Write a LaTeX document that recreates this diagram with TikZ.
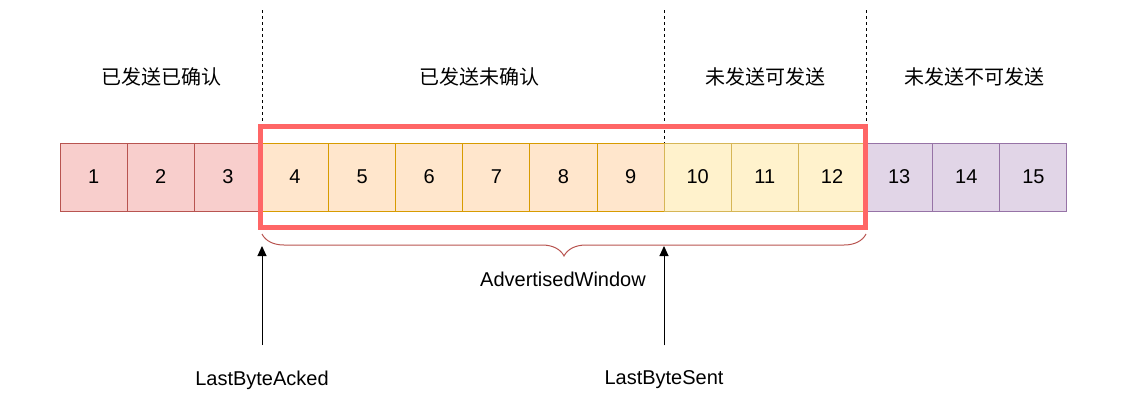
\documentclass[tikz,border=0pt]{standalone}
\usepackage{fontspec}
\setmainfont{Liberation Sans}
\newfontfamily\cjk{Noto Sans CJK SC}
\usetikzlibrary{decorations.pathreplacing,arrows.meta}
\definecolor{rf}{HTML}{F8CECC}\definecolor{rd}{HTML}{B85450}
\definecolor{of}{HTML}{FFE6CC}\definecolor{od}{HTML}{D79B00}
\definecolor{yf}{HTML}{FFF2CC}\definecolor{yd}{HTML}{D6B656}
\definecolor{pf}{HTML}{E1D5E7}\definecolor{pd}{HTML}{9673A6}
\definecolor{win}{HTML}{FF6666}
\begin{document}
\begin{tikzpicture}[x=1pt,y=-1pt,
  cell/.style={draw,line width=1pt,minimum width=67.13pt,minimum height=68pt,inner sep=0pt,font=\fontsize{20}{24}\selectfont},
  lbl/.style={font=\fontsize{20}{24}\selectfont},
  hd/.style={font=\fontsize{20}{24}\selectfont\cjk},
  vl/.style={dashed,line width=0.8pt}]
\useasboundingbox (0,0) rectangle (1132,413);
\foreach \i in {1,...,15}{
  \pgfmathsetmacro{\cx}{60+67.13*(\i-0.5)}
  \ifnum\i<4 \def\ff{rf}\def\dd{rd}\else\ifnum\i<10 \def\ff{of}\def\dd{od}\else\ifnum\i<13 \def\ff{yf}\def\dd{yd}\else\def\ff{pf}\def\dd{pd}\fi\fi\fi
  \node[cell,fill=\ff,draw=\dd] (c\i) at (\cx,177) {\i};
}
\coordinate (d1t) at (262,10); \coordinate (d1b) at (262,143);
\coordinate (d2t) at (664,10); \coordinate (d2b) at (664,143);
\coordinate (d3t) at (866,10); \coordinate (d3b) at (866,143);
\draw[vl] (d1t)--(d1b); \draw[vl] (d2t)--(d2b); \draw[vl] (d3t)--(d3b);
\node[hd] (h1) at (161,77) {已发送已确认};
\node[hd] (h2) at (479,77) {已发送未确认};
\node[hd] (h3) at (765,77) {未发送可发送};
\node[hd] (h4) at (974,77) {未发送不可发送};
\node[draw=win,line width=5pt,minimum width=605pt,minimum height=101pt,inner sep=0pt] (w) at (563,177) {};
\draw[rd,line width=1pt,decorate,decoration={brace,mirror,amplitude=22pt}] (262,234) -- (866,234);
\node[lbl] (aw) at (563,279) {AdvertisedWindow};
\node[lbl] (la) at (262,380) {LastByteAcked};
\node[lbl] (ls) at (664,380) {LastByteSent};
\coordinate (a1) at (262,246); \coordinate (a2) at (664,246);
\draw[-{Triangle[length=10pt,width=9pt]},line width=1pt] (la.north) ++(0,-22) -- (a1);
\draw[-{Triangle[length=10pt,width=9pt]},line width=1pt] (ls.north) ++(0,-22) -- (a2);
\end{tikzpicture}
\end{document}
